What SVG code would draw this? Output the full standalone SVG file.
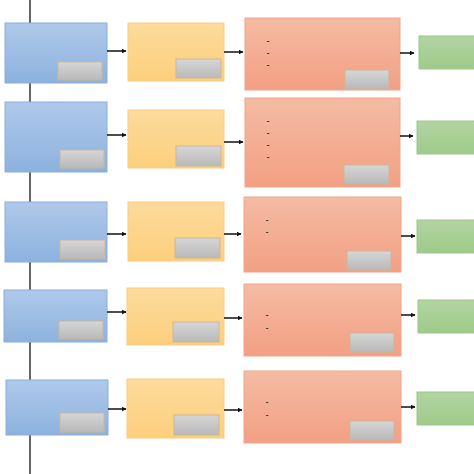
<svg xmlns="http://www.w3.org/2000/svg" width="474" height="474" viewBox="0 0 474 474">
<defs>
<linearGradient id="gB" x1="0" y1="0" x2="0" y2="1"><stop offset="0" stop-color="#afc9ea"/><stop offset="1" stop-color="#8db2df"/></linearGradient>
<linearGradient id="gY" x1="0" y1="0" x2="0" y2="1"><stop offset="0" stop-color="#fddb9c"/><stop offset="1" stop-color="#fccf7c"/></linearGradient>
<linearGradient id="gR" x1="0" y1="0" x2="0" y2="1"><stop offset="0" stop-color="#f5bba3"/><stop offset="1" stop-color="#f2a083"/></linearGradient>
<linearGradient id="gG" x1="0" y1="0" x2="0" y2="1"><stop offset="0" stop-color="#b2d4a2"/><stop offset="1" stop-color="#9fcb8b"/></linearGradient>
<linearGradient id="gK" x1="0" y1="0" x2="0" y2="1"><stop offset="0" stop-color="#d6d6d6"/><stop offset="1" stop-color="#b9b9b9"/></linearGradient>
<marker id="ah" viewBox="0 0 10 10" refX="9" refY="5" markerWidth="5" markerHeight="5" orient="auto" markerUnits="userSpaceOnUse"><path d="M0,0 L10,5 L0,10 z" fill="#111"/></marker>
</defs>
<style>
.b{fill:url(#gB);stroke:#8aaedb;stroke-width:1}
.y{fill:url(#gY);stroke:#f6cd84;stroke-width:1}
.r{fill:url(#gR);stroke:#eea68b;stroke-width:1}
.g{fill:url(#gG);stroke:#9cc788;stroke-width:1}
.k{fill:url(#gK);stroke:#c9b79a;stroke-width:1}
.a{stroke:#111;stroke-width:1.5;fill:none;marker-end:url(#ah)}
.d{font-family:"Liberation Sans",Arial,sans-serif;font-size:8px;font-weight:bold;fill:#222;text-anchor:middle}
</style>
<rect width="474" height="474" fill="#fff"/>
<g id="spine"><line x1="30" y1="0" x2="30" y2="474" stroke="#333" stroke-width="1.5"/></g>

<g id="row1">
<g id="blue1"><rect class="b" x="5" y="23" width="102" height="60"/><rect class="k" x="58" y="62" width="44" height="18"/></g>
<g id="yellow1"><rect class="y" x="128" y="23" width="96" height="58"/><rect class="k" x="176" y="59" width="45" height="19"/></g>
<g id="red1"><rect class="r" x="245" y="18" width="155" height="72"/><rect class="k" x="345" y="70" width="44" height="19"/>
<text class="d" x="268" y="43">-</text><text class="d" x="268" y="55">-</text><text class="d" x="268" y="67">-</text></g>
<g id="green1"><rect class="g" x="419" y="36" width="60" height="33"/></g>
</g>

<g id="row2">
<g id="blue2"><rect class="b" x="5" y="102" width="102" height="70"/><rect class="k" x="60" y="150" width="44" height="18"/></g>
<g id="yellow2"><rect class="y" x="128" y="110" width="96" height="58"/><rect class="k" x="176" y="146" width="45" height="20"/></g>
<g id="red2"><rect class="r" x="245" y="98" width="155" height="89"/><rect class="k" x="344" y="165" width="45" height="19"/>
<text class="d" x="268" y="123">-</text><text class="d" x="268" y="135">-</text><text class="d" x="268" y="147">-</text><text class="d" x="268" y="159">-</text></g>
<g id="green2"><rect class="g" x="417" y="121" width="62" height="33"/></g>
</g>

<g id="row3">
<g id="blue3"><rect class="b" x="5" y="202" width="102" height="60"/><rect class="k" x="60" y="240" width="45" height="19"/></g>
<g id="yellow3"><rect class="y" x="128" y="202" width="96" height="59"/><rect class="k" x="175" y="238" width="45" height="20"/></g>
<g id="red3"><rect class="r" x="244" y="197" width="157" height="75"/><rect class="k" x="347" y="251" width="44" height="19"/>
<text class="d" x="267" y="222">-</text><text class="d" x="267" y="234">-</text></g>
<g id="green3"><rect class="g" x="417" y="220" width="62" height="33"/></g>
</g>

<g id="row4">
<g id="blue4"><rect class="b" x="4" y="290" width="103" height="52"/><rect class="k" x="59" y="321" width="44" height="18"/></g>
<g id="yellow4"><rect class="y" x="127" y="288" width="97" height="57"/><rect class="k" x="173" y="322" width="46" height="20"/></g>
<g id="red4"><rect class="r" x="244" y="284" width="157" height="72"/><rect class="k" x="350" y="333" width="44" height="19"/>
<text class="d" x="267" y="317">-</text><text class="d" x="267" y="330">-</text></g>
<g id="green4"><rect class="g" x="418" y="300" width="61" height="33"/></g>
</g>

<g id="row5">
<g id="blue5"><rect class="b" x="6" y="380" width="102" height="55"/><rect class="k" x="60" y="413" width="44" height="19"/></g>
<g id="yellow5"><rect class="y" x="127" y="379" width="97" height="59"/><rect class="k" x="174" y="415" width="45" height="20"/></g>
<g id="red5"><rect class="r" x="244" y="371" width="157" height="72"/><rect class="k" x="350" y="421" width="44" height="19"/>
<text class="d" x="267" y="404">-</text><text class="d" x="267" y="417">-</text></g>
<g id="green5"><rect class="g" x="417" y="392" width="62" height="33"/></g>
</g>

<g id="connectors">
<line class="a" x1="107" y1="51" x2="126" y2="51"/>
<line class="a" x1="224" y1="52" x2="243" y2="52"/>
<line class="a" x1="400" y1="53" x2="414" y2="53"/>
<line class="a" x1="107" y1="135" x2="126" y2="135"/>
<line class="a" x1="224" y1="142" x2="243" y2="142"/>
<line class="a" x1="400" y1="136" x2="413" y2="136"/>
<line class="a" x1="107" y1="234" x2="126" y2="234"/>
<line class="a" x1="224" y1="234" x2="241" y2="234"/>
<line class="a" x1="401" y1="236" x2="415" y2="236"/>
<line class="a" x1="107" y1="312" x2="126" y2="312"/>
<line class="a" x1="224" y1="318" x2="242" y2="318"/>
<line class="a" x1="401" y1="315" x2="415" y2="315"/>
<line class="a" x1="108" y1="409" x2="126" y2="409"/>
<line class="a" x1="224" y1="410" x2="242" y2="410"/>
<line class="a" x1="401" y1="407" x2="415" y2="407"/>
</g>
</svg>
